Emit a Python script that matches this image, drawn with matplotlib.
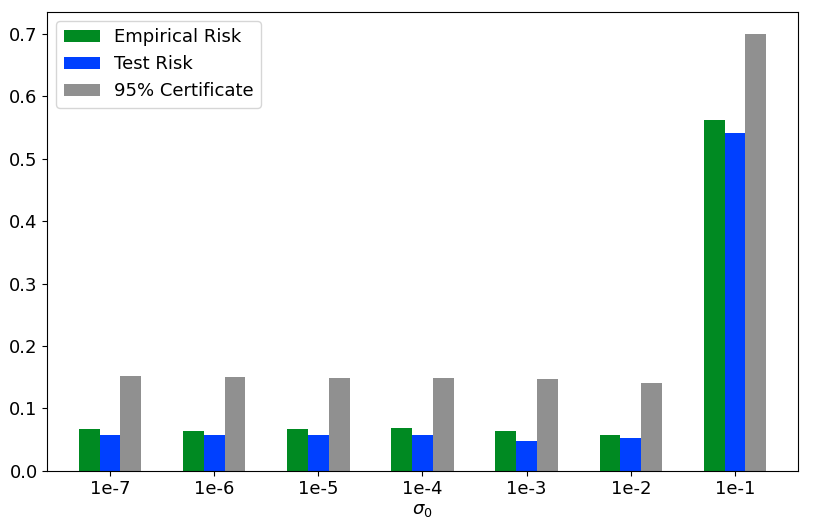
import matplotlib
matplotlib.use("Agg")
import matplotlib.pyplot as plt
import numpy as np

categories = ["1e-7", "1e-6", "1e-5", "1e-4", "1e-3", "1e-2", "1e-1"]
empirical = [0.067, 0.064, 0.067, 0.068, 0.063, 0.058, 0.562]
test = [0.058, 0.058, 0.058, 0.058, 0.048, 0.053, 0.542]
cert = [0.152, 0.150, 0.149, 0.149, 0.147, 0.141, 0.700]

fig = plt.figure(figsize=(8.18, 5.26), dpi=100)
ax = fig.add_axes([0.058, 0.105, 0.917, 0.872])
x = np.arange(len(categories))
w = 0.2
ax.bar(x - w, empirical, w, color="#008a22", label="Empirical Risk")
ax.bar(x, test, w, color="#0040ff", label="Test Risk")
ax.bar(x + w, cert, w, color="#909090", label="95% Certificate")
ax.set_xticks(x)
ax.set_xticklabels(categories)
ax.set_xlim(-0.6, 6.6)
ax.set_ylim(0, 0.735)
ax.set_yticks(np.arange(0, 0.71, 0.1))
ax.tick_params(labelsize=13)
ax.set_xlabel(r"$\sigma_0$", fontsize=13, labelpad=2)
ax.legend(loc="upper left", fontsize=13)
fig.savefig("out.png", dpi=100)
